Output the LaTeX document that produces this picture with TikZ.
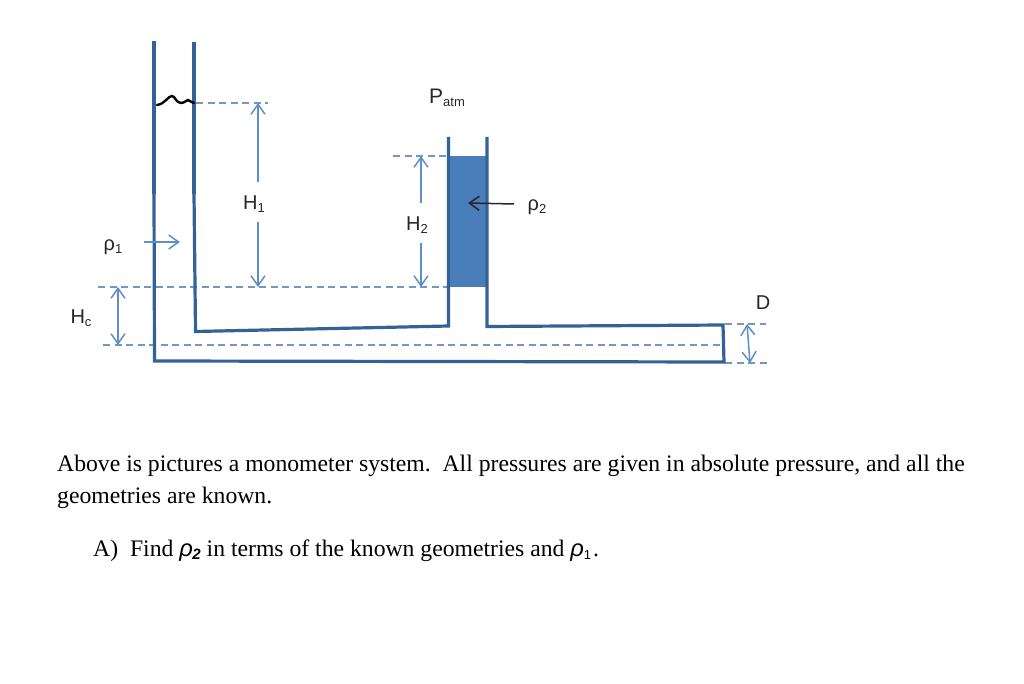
\documentclass[tikz,border=0pt]{standalone}
\usepackage{fontspec}
\setmainfont{Liberation Serif}
\setsansfont{Liberation Sans}
\usetikzlibrary{arrows.meta}
\definecolor{wallblue}{HTML}{336396}
\definecolor{fluidblue}{HTML}{4A7EBB}
\definecolor{dimblue}{HTML}{5F8FC8}
\definecolor{dashblue}{HTML}{7097C6}
\tikzset{
    wall/.style={draw=wallblue, line width=3.2pt, line join=miter},
    dimline/.style={draw=dimblue, line width=1.5pt, >={Straight Barb[length=10pt,width=14pt]}},
    level/.style={draw=dashblue, line width=1.4pt, dash pattern=on 7pt off 4.5pt},
    lbl/.style={font=\sffamily\fontsize{20}{21}\selectfont, text=black!85, inner sep=3pt},
    gaplbl/.style={lbl, inner ysep=4pt, text height=24pt, text depth=8pt},
    body/.style={font=\fontsize{23.68}{26}\selectfont, anchor=base west, inner sep=0pt}
}
\newcommand{\subsf}[1]{\raisebox{-3pt}{\fontsize{13}{13}\selectfont #1}}
\begin{document}
\begin{tikzpicture}[x=1pt,y=-1pt]
    \useasboundingbox (0,0) rectangle (1024,684);
    % fluid
    \fill[fluidblue] (448,156) rectangle (487,287);
    % level lines
    \draw[level] (98,287) -- (448,287);
    \draw[level] (103,345) -- (723,345);
    \draw[level] (196,103) -- (268,103);
    \draw[level] (393,156) -- (448,156);
    \draw[level] (725,324) -- (766,324);
    \draw[level] (725,363) -- (770,363);
    % tubes
    \draw[wall, line width=4.2pt] (154,41) -- (154,194);
    \draw[wall, line width=4pt] (194,42) -- (194,194);
    \draw[wall] (154,194) -- (154.5,361) -- (724,362) -- (723,325) -- (487,326.5) -- (487,137);
    \draw[wall] (194,194) -- (195.5,331.5) -- (448.5,326) -- (448.5,137);
    % free surface
    \draw[black, line width=2.4pt, line cap=round] (157,105) .. controls (165,104) and (168,96) .. (172,96)
        .. controls (175,96) and (176,103) .. (181,103)
        .. controls (185,103) and (186,100) .. (188,100) .. controls (190,100) and (191,103) .. (194,103);
    % labels
    \node [lbl, font=\sffamily\fontsize{21}{22}\selectfont] (patm) at (447,98) {P\subsf{atm}};
    \node [gaplbl] (hone) at (254,202) {H\subsf{1}};
    \node [gaplbl] (htwo) at (417,223) {H\subsf{2}};
    \node [lbl] (hc) at (81,318) {H\subsf{c}};
    \node [lbl] (dia) at (763,303) {D};
    \node [lbl] (rone) at (113,247) {ρ\subsf{1}};
    \node [lbl] (rtwo) at (537,207) {ρ\subsf{2}};
    % dimension ends
    \coordinate (honetop) at (258,103);
    \coordinate (honebot) at (258,287);
    \coordinate (htwotop) at (421,156);
    \coordinate (htwobot) at (421,287);
    \coordinate (hctop) at (118,287);
    \coordinate (hcbot) at (118,345);
    \coordinate (dtop) at (747,324);
    \coordinate (dbot) at (750,363);
    \coordinate (ronefrom) at (144,242);
    \coordinate (roneto) at (180,242);
    \coordinate (rtwofrom) at (514,204);
    \coordinate (rtwoto) at (468,203);
    % arrows
    \draw[dimline,->] (honetop|-hone.north) -- (honetop);
    \draw[dimline,->] (honetop|-hone.south) -- (honebot);
    \draw[dimline,->] (htwotop|-htwo.north) -- (htwotop);
    \draw[dimline,->] (htwotop|-htwo.south) -- (htwobot);
    \draw[dimline,<->] (hctop) -- (hcbot);
    \draw[dimline,<->] (dtop) -- (dbot);
    \draw[dimline,->] (ronefrom) -- (roneto);
    \draw[dimline,->,draw=black!85] (rtwofrom) -- (rtwoto);
    % text
    \node [body] (lineone) at (57,471) {Above is pictures a monometer system.\ \ All pressures are given in absolute pressure, and all the};
    \node [body] (linetwo) at (57,503) {geometries are known.};
    \node [body] (linethree) at (93,556) {A)\ \ Find {\sffamily\itshape ρ\hspace{-0.5pt}\raisebox{-3pt}{\bfseries\fontsize{15}{15}\selectfont 2}} in terms of the known geometries and {\sffamily\itshape ρ\raisebox{-3pt}{\upshape\fontsize{13}{13}\selectfont 1}}\hspace{2pt}.};
\end{tikzpicture}
\end{document}
